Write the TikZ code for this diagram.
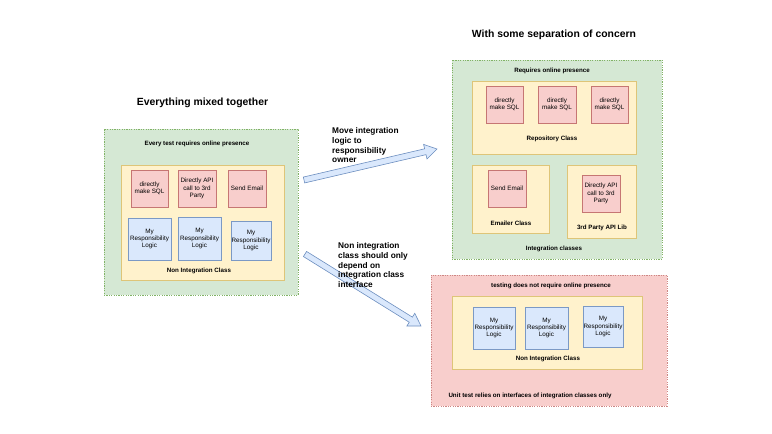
\documentclass[tikz,border=0pt]{standalone}
\usepackage{fontspec}
\setmainfont{Liberation Sans}
\usetikzlibrary{calc}
\definecolor{gfill}{HTML}{D5E8D4}
\definecolor{gdraw}{HTML}{82B366}
\definecolor{yfill}{HTML}{FFF2CC}
\definecolor{ydraw}{HTML}{D6B656}
\definecolor{rfill}{HTML}{F8CECC}
\definecolor{rdraw}{HTML}{B85450}
\definecolor{bfill}{HTML}{DAE8FC}
\definecolor{bdraw}{HTML}{6C8EBF}
\tikzset{
  grpg/.style={draw=gdraw, fill=gfill, dash pattern=on 1.2pt off 1.2pt, line width=0.6pt, inner sep=0},
  grpr/.style={draw=rdraw!70, fill=rfill, dash pattern=on 1.2pt off 1.2pt, line width=0.6pt, inner sep=0},
  cls/.style={draw=ydraw!80, fill=yfill, line width=0.6pt, inner sep=0},
  redbox/.style={draw=rdraw!80, fill=rfill, line width=0.6pt, inner sep=0, align=center,
    font=\fontsize{6.3}{7.3}\selectfont},
  bluebox/.style={draw=bdraw!90, fill=bfill, line width=0.6pt, inner sep=0, align=center,
    font=\fontsize{6.3}{7.3}\selectfont},
  lbl/.style={font=\bfseries\fontsize{6.2}{7.4}\selectfont, inner sep=0},
  ttl/.style={font=\bfseries\fontsize{10.4}{12}\selectfont, inner sep=0},
  alabel/.style={font=\bfseries\fontsize{8.3}{9.7}\selectfont, inner sep=0, align=left, anchor=north west},
  blockarrow/.style={draw=bdraw, fill=bfill, line width=0.6pt, line join=miter},
}
\newcommand{\blockarr}[2]{%
  \coordinate (hb) at ($(#2)!12pt!(#1)$);
  \draw[blockarrow] ($(#1)!3pt!90:(#2)$) -- ($(hb)!3pt!-90:(#1)$) -- ($(hb)!7.5pt!-90:(#1)$)
    -- (#2) -- ($(hb)!7.5pt!90:(#1)$) -- ($(hb)!3pt!90:(#1)$) -- ($(#1)!3pt!-90:(#2)$) -- cycle;}
\begin{document}
\begin{tikzpicture}[x=1pt,y=-1pt]
\useasboundingbox (0,0) rectangle (772,434);
% ---------- left ----------
\node[ttl] (t1) at (202.5,103) {Everything mixed together};
\node[grpg, minimum width=194pt, minimum height=166pt] (g1) at (201,212) {};
\node[lbl] (l1) at (197,144) {Every test requires online presence};
\node[cls, minimum width=163pt, minimum height=115pt] (y1) at (202.5,222.5) {};
\node[redbox, minimum width=37pt, minimum height=37pt] (r1) at (149.5,188.5) {directly\\make SQL};
\node[redbox, minimum width=38pt, minimum height=37pt] (r2) at (197,188.5) {Directly API\\call to 3rd\\Party};
\node[redbox, minimum width=38pt, minimum height=37pt] (r3) at (247,188.5) {Send Email};
\node[bluebox, minimum width=43pt, minimum height=42pt] (b1) at (149.5,239) {My\\Responsibility\\Logic};
\node[bluebox, minimum width=43pt, minimum height=43pt] (b2) at (199.5,238.5) {My\\Responsibility\\Logic};
\node[bluebox, minimum width=40pt, minimum height=39pt] (b3) at (251,240.5) {My\\Responsibility\\Logic};
\node[lbl] (l2) at (199,270.5) {Non Integration Class};
% ---------- right top ----------
\node[ttl] (t2) at (554,35) {With some separation of concern};
\node[grpg, minimum width=210pt, minimum height=199pt] (g2) at (557,159.5) {};
\node[lbl] (l3) at (552,71) {Requires online presence};
\node[cls, minimum width=164pt, minimum height=73pt] (yrep) at (554,117.5) {};
\node[redbox, minimum width=37pt, minimum height=37pt] (s1) at (504.5,104.5) {directly\\make SQL};
\node[redbox, minimum width=38pt, minimum height=37pt] (s2) at (557,104.5) {directly\\make SQL};
\node[redbox, minimum width=37pt, minimum height=37pt] (s3) at (609.5,104.5) {directly\\make SQL};
\node[lbl] (l4) at (552,139) {Repository Class};
\node[cls, minimum width=77pt, minimum height=68pt] (yem) at (510.5,199) {};
\node[redbox, minimum width=38pt, minimum height=37pt] (se) at (507,188.5) {Send Email};
\node[lbl] (l5) at (511,223) {Emailer Class};
\node[cls, minimum width=69pt, minimum height=73pt] (y3p) at (601.5,201.5) {};
\node[redbox, minimum width=38pt, minimum height=37pt] (api) at (601,193.5) {Directly API\\call to 3rd\\Party};
\node[lbl] (l6) at (602,228) {3rd Party API Lib};
\node[lbl] (l7) at (554,249) {Integration classes};
% ---------- right bottom ----------
\node[grpr, minimum width=236pt, minimum height=131pt] (g3) at (549,340.5) {};
\node[lbl] (l8) at (551,286) {testing does not require online presence};
\node[cls, minimum width=190pt, minimum height=73pt] (y4) at (547,332.5) {};
\node[bluebox, minimum width=42pt, minimum height=42pt] (c1) at (494,328) {My\\Responsibility\\Logic};
\node[bluebox, minimum width=43pt, minimum height=42pt] (c2) at (546.5,328) {My\\Responsibility\\Logic};
\node[bluebox, minimum width=40pt, minimum height=41pt] (c3) at (603,326.5) {My\\Responsibility\\Logic};
\node[lbl] (l9) at (548,359) {Non Integration Class};
\node[lbl] (l10) at (530,396) {Unit test relies on interfaces of integration classes only};
% ---------- arrows ----------
\coordinate (a1t) at (304,180);
\coordinate (a1h) at (437,149);
\blockarr{a1t}{a1h}
\coordinate (a2t) at (305,254);
\coordinate (a2h) at (421,326);
\blockarr{a2t}{a2h}
\node[alabel] (m1) at (332,127.5) {Move integration\\logic to\\responsibility\\owner};
\node[alabel] (m2) at (338,242.5) {Non integration\\class should only\\depend on\\integration class\\interface};
\end{tikzpicture}
\end{document}
